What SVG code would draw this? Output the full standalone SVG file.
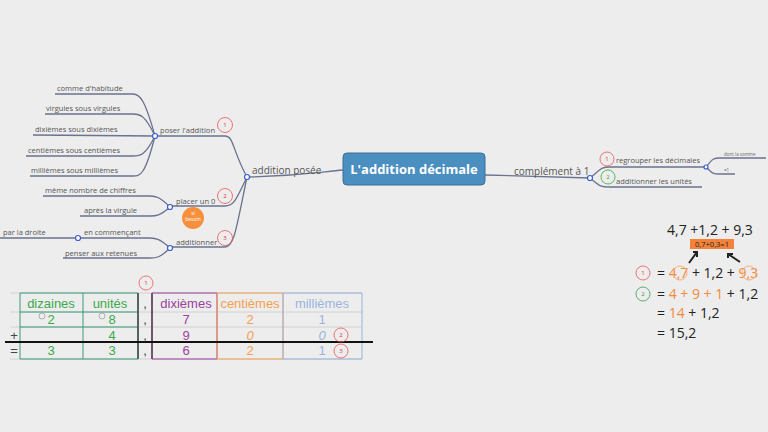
<svg xmlns="http://www.w3.org/2000/svg" width="768" height="432" viewBox="0 0 768 432">
<style>
text{font-family:"Open Sans","DejaVu Sans",sans-serif}
.t{font-size:7.5px;fill:#555}
.b{font-size:7.6px;fill:#555}
.l{fill:none;stroke:#6a7390;stroke-width:1.3}
.k{fill:#fff;stroke:#3a5fcf;stroke-width:1.2}
.r{fill:none;stroke:#e55;stroke-width:0.8}
.rn{font-size:6px;fill:#d33;text-anchor:middle}
.tb{font-family:"Liberation Sans",sans-serif;font-size:13px;text-anchor:middle}
.m{font-family:"Open Sans",sans-serif;font-size:14px;fill:#222}
.o{fill:#f08a3c}
</style>
<rect width="768" height="432" fill="#ededed"/>
<g id="connectors">
<path class="l" d="M343 170 C320 172 300 176 247 177"/>
<path class="l" d="M247 177 C232 150 234 136 225 136 L155 136"/>
<path class="l" d="M247 177 C236 200 234 206 225 206 L170 206"/>
<path class="l" d="M247 177 C236 230 234 247 225 247 L170 247"/>
<path class="l" d="M155 136 C145 100 140 94 133 94 L55 94"/>
<path class="l" d="M155 136 C145 115 140 114 133 114 L45 114"/>
<path class="l" d="M155 136 L33 135"/>
<path class="l" d="M155 136 C145 156 140 156 133 156 L26 156"/>
<path class="l" d="M155 136 C145 176 140 176 133 176 L30 176"/>
<path class="l" d="M170 207 C160 197 156 196 150 196 L43 196"/>
<path class="l" d="M170 207 C160 216 156 216 150 216 L80 216"/>
<path class="l" d="M170 248 C160 239 156 238 150 238 L78 238 L0 238"/>
<path class="l" d="M170 248 C160 258 156 258 150 258 L63 258"/>
<path class="l" d="M485 175 L590 178"/>
<path class="l" d="M590 178 C600 170 600 167 610 167 L706 167"/>
<path class="l" d="M590 178 C600 186 600 187 610 187 L702 187"/>
<path class="l" d="M706 167 C712 160 712 158 720 158 L766 158"/>
<path class="l" d="M706 167 C712 173 712 174 720 174 L735 174"/>
</g>
<g id="center"><rect x="343" y="153" width="142" height="32" rx="4" fill="#4a8fc0" stroke="#3a6f9a"/>
<text x="414" y="174" text-anchor="middle" font-size="13" font-weight="bold" fill="#fff">L'addition décimale</text></g>
<g id="addition-posee"><circle class="k" cx="247" cy="177" r="2.5"/><text x="252" y="174" font-size="10" fill="#555">addition posée</text></g>
<g id="poser"><circle class="k" cx="155" cy="136" r="2.5"/><text class="b" x="160" y="133">poser l'addition</text><circle class="r" cx="225" cy="125" r="7.5"/><text class="rn" x="225" y="127">1</text></g>
<g id="placer"><circle class="k" cx="170" cy="207" r="2.5"/><text class="b" x="176" y="204">placer un 0</text><circle class="r" cx="225" cy="196" r="7.5"/><text class="rn" x="225" y="198">2</text>
<circle cx="193" cy="218" r="11" fill="#f7903c"/><text x="193" y="215" font-size="5" fill="#fff" text-anchor="middle">si</text><text x="193" y="221" font-size="5" fill="#fff" text-anchor="middle">besoin</text></g>
<g id="additionner"><circle class="k" cx="170" cy="248" r="2.5"/><text class="b" x="176" y="245">additionner</text><circle class="r" cx="225" cy="238" r="7.5"/><text class="rn" x="225" y="240">3</text></g>
<g id="leaves">
<text class="t" x="57" y="91">comme d'habitude</text>
<text class="t" x="46" y="111">virgules sous virgules</text>
<text class="t" x="35" y="132">dixièmes sous dixièmes</text>
<text class="t" x="28" y="153">centièmes sous centièmes</text>
<text class="t" x="31" y="173">millièmes sous millièmes</text>
<text class="t" x="45" y="193">même nombre de chiffres</text>
<text class="t" x="84" y="213">après la virgule</text>
<circle class="k" cx="78" cy="238" r="2.5"/>
<text class="t" x="3" y="235">par la droite</text>
<text class="t" x="84" y="235">en commençant</text>
<text class="t" x="65" y="256">penser aux retenues</text>
</g>
<g id="complement"><circle class="k" cx="590" cy="178" r="2.5"/><text x="514" y="175" font-size="10" fill="#555">complément à 1</text>
<circle class="r" cx="607" cy="159" r="7"/><text class="rn" x="607" y="161">1</text>
<circle cx="608" cy="177" r="7" fill="none" stroke="#3a3" stroke-width="0.8"/><text x="608" y="179" font-size="6" fill="#3a3" text-anchor="middle">2</text>
<text class="t" x="616" y="163">regrouper les décimales</text>
<text class="t" x="616" y="184">additionner les unités</text>
<circle class="k" cx="706" cy="167" r="2"/>
<text x="724" y="156" font-size="4.5" fill="#666">dont la somme</text>
<text x="724" y="172" font-size="4.5" fill="#666">=1</text>
</g>
<g id="table">
<g stroke="#ccc" stroke-width="0.8"><line x1="10" y1="293" x2="362" y2="293"/><line x1="10" y1="312" x2="362" y2="312"/><line x1="10" y1="327" x2="362" y2="327"/><line x1="10" y1="359" x2="362" y2="359"/></g>
<g fill="none" stroke-width="1"><path d="M20 293V359M83 293V359M138 293V359" stroke="#3a9a7a"/><path d="M138 293V359M152 293V359" stroke="#444"/><path d="M152 293H217V359H152Z" stroke="#9b3f9b"/><path d="M217 293H283V359H217Z" stroke="#f5a050"/><path d="M283 293H362V359H283Z" stroke="#9ab4dc"/><path d="M20 293H138M20 312H138M20 327H138M20 359H138" stroke="#3a9a7a"/><path d="M138 293V359M152 293V359" stroke="#444"/></g>
<line x1="5" y1="342" x2="373" y2="342" stroke="#111" stroke-width="1.8"/>
<circle class="r" cx="146" cy="283" r="7"/><text class="rn" x="146" y="285">1</text>
<g fill="#3aaa4a"><text class="tb" x="51" y="308">dizaines</text><text class="tb" x="110" y="308">unités</text><text class="tb" x="51" y="324">2</text><text class="tb" x="112" y="324">8</text><text class="tb" x="112" y="340">4</text><text class="tb" x="51" y="355">3</text><text class="tb" x="112" y="355">3</text></g>
<circle cx="42" cy="316" r="3" fill="none" stroke="#888" stroke-width="0.6"/><circle cx="102" cy="316" r="3" fill="none" stroke="#888" stroke-width="0.6"/>
<g fill="#444"><text class="tb" x="145" y="308">,</text><text class="tb" x="145" y="324">,</text><text class="tb" x="145" y="340">,</text><text class="tb" x="145" y="355">,</text><text class="tb" x="14" y="340">+</text><text class="tb" x="14" y="355">=</text></g>
<g fill="#9b3f9b"><text class="tb" x="186" y="308">dixièmes</text><text class="tb" x="186" y="324">7</text><text class="tb" x="186" y="340">9</text><text class="tb" x="186" y="355">6</text></g>
<g fill="#f5a050"><text class="tb" x="250" y="308">centièmes</text><text class="tb" x="250" y="324">2</text><text class="tb" x="250" y="340" font-style="italic">0</text><text class="tb" x="250" y="355">2</text></g>
<g fill="#9ab4dc"><text class="tb" x="322" y="308">millièmes</text><text class="tb" x="322" y="324">1</text><text class="tb" x="322" y="340" font-style="italic">0</text><text class="tb" x="322" y="355">1</text></g>
<circle class="r" cx="341" cy="335" r="7"/><text class="rn" x="341" y="337">2</text>
<circle class="r" cx="341" cy="351" r="7"/><text class="rn" x="341" y="353">3</text>
</g>
<g id="calc">
<text class="m" x="667" y="235">4,7 +1,2 + 9,3</text>
<rect x="690" y="239" width="44" height="10" fill="#f5823a"/><text x="712" y="247" font-size="7.5" fill="#222" text-anchor="middle" font-family="Open Sans,sans-serif">0,7+0,3=1</text>
<g stroke="#222" stroke-width="2" fill="none"><path d="M689 263L697 252M693 252H697V257"/><path d="M740 262L728 254M728 258V254H733"/></g>
<circle class="r" cx="643" cy="273" r="7"/><text class="rn" x="643" y="275">1</text>
<circle cx="643" cy="294" r="7" fill="none" stroke="#3a9a5a" stroke-width="0.8"/><text x="643" y="296" font-size="6" fill="#3a9a5a" text-anchor="middle">2</text>
<text class="m" x="657" y="278">= <tspan class="o">4,7</tspan> + 1,2 + <tspan class="o">9,3</tspan></text>
<circle cx="680" cy="273" r="7" fill="none" stroke="#f5b080"/><circle cx="749" cy="273" r="7" fill="none" stroke="#f5b080"/>
<text class="m" x="657" y="299">= <tspan class="o">4 + 9 + 1</tspan> + 1,2</text>
<text class="m" x="657" y="318">= <tspan class="o">14</tspan> + 1,2</text>
<text class="m" x="657" y="338">=  15,2</text>
</g>
</svg>
